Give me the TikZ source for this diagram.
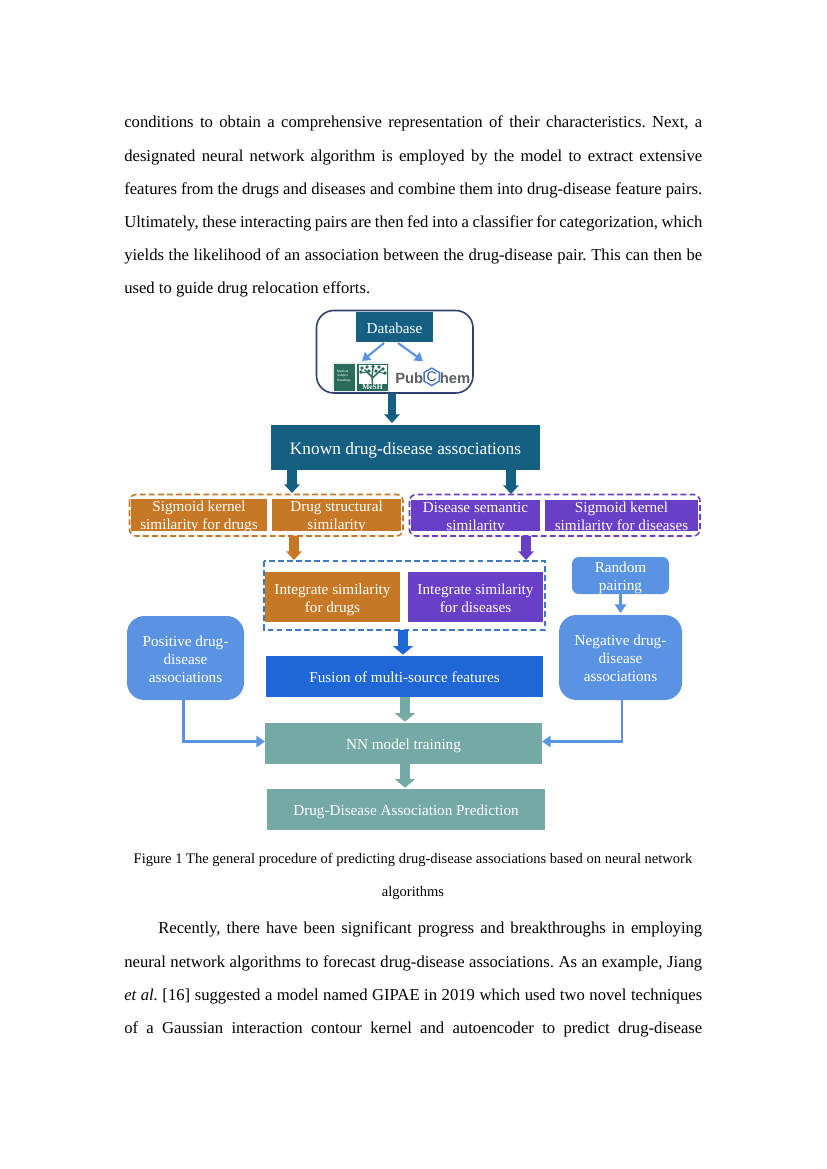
\documentclass[tikz,border=0pt]{standalone}
\usepackage{fontspec}
\setmainfont{Liberation Serif}
\newfontfamily\logofont{Liberation Sans}
\usetikzlibrary{arrows.meta,calc,shapes.geometric}
\frenchspacing
\definecolor{cTeal}{HTML}{156082}
\definecolor{cOrange}{HTML}{C77826}
\definecolor{cPurple}{HTML}{6A3FC8}
\definecolor{cSky}{HTML}{5B93E3}
\definecolor{cFusion}{HTML}{1F66D6}
\definecolor{cSage}{HTML}{74A9A6}
\definecolor{cNavy}{HTML}{2F3F70}
\definecolor{cDash}{HTML}{3F78C4}
\definecolor{cMesh}{HTML}{2A6B5A}
\definecolor{cGrey}{HTML}{5A5F66}
\tikzset{
  x=0.75pt,y=-0.75pt,
  bodyline/.style={anchor=west,inner sep=0pt,yshift=-1.3pt,font=\fontsize{12.5}{14}\selectfont},
  caption/.style={inner sep=0pt,yshift=-1.2pt,font=\fontsize{10.9}{13}\selectfont},
  boxlab/.style={text=white,align=center,inner sep=0pt,font=\fontsize{11.4}{13.5}\selectfont},
  group/.style={draw=#1,line width=1.2pt,dash pattern=on 4.4pt off 2.4pt,rounded corners=5pt},
  block/.style={draw=#1,line width=5.5pt,-{Triangle[width=11.5pt,length=6.5pt,fill=#1]}},
  fatblock/.style={draw=#1,line width=7.5pt,-{Triangle[width=11.5pt,length=6.5pt,fill=#1]}},
  wideblock/.style={draw=#1,line width=7.5pt,-{Triangle[width=15pt,length=6.5pt,fill=#1]}},
  thin arrow/.style={draw=cSky,line width=2.2pt,-{Triangle[width=8.5pt,length=6.5pt,fill=cSky]}},
  diag arrow/.style={draw=cSky,line width=1.6pt,-{Triangle[width=7.5pt,length=6pt,fill=cSky]}},
}
% \cbox{name}{x0}{y0}{x1}{y1}{colour}{corner}{text}
\newcommand{\cbox}[8]{%
  \path[fill=#6,rounded corners=#7pt] (#2,#3) rectangle (#4,#5);
  \coordinate (#1) at ($(#2,#3)!0.5!(#4,#5)$);
  \coordinate (#1n) at ($(#2,#3)!0.5!(#4,#3)$);
  \coordinate (#1s) at ($(#2,#5)!0.5!(#4,#5)$);
  \coordinate (#1w) at ($(#2,#3)!0.5!(#2,#5)$);
  \coordinate (#1e) at ($(#4,#3)!0.5!(#4,#5)$);
  \node[boxlab] (#1t) at ($(#1)+(0,2.5)$) {\strut #8\strut};
}
% clipped version: text cut off by the lower edge
\newcommand{\clipbox}[7]{%
  \path[fill=#6] (#2,#3) rectangle (#4,#5);
  \begin{scope}
    \clip (#2,#3) rectangle (#4,#5);
    \node[boxlab] (#1) at ($(#2,#3)!0.5!(#4,#5)+(0,2)$) {\strut #7\strut};
  \end{scope}
}
\begin{document}
\begin{tikzpicture}
\useasboundingbox[fill=white] (0,0) rectangle (826,1169);
% body text top
\node[bodyline] (l1) at (124,122) {\makebox[578\dimexpr0.75pt\relax][s]{conditions to obtain a comprehensive representation of their characteristics. Next, a}};
\node[bodyline] (l2) at (124,155.5) {\makebox[578\dimexpr0.75pt\relax][s]{designated neural network algorithm is employed by the model to extract extensive}};
\node[bodyline] (l3) at (124,188.5) {\makebox[578\dimexpr0.75pt\relax][s]{features from the drugs and diseases and combine them into drug-disease feature pairs.}};
\node[bodyline] (l4) at (124,221.5) {\makebox[578\dimexpr0.75pt\relax][s]{Ultimately, these interacting pairs are then fed into a classifier for categorization, which}};
\node[bodyline] (l5) at (124,255) {\makebox[578\dimexpr0.75pt\relax][s]{yields the likelihood of an association between the drug-disease pair. This can then be}};
\node[bodyline] (l6) at (124,288) {used to guide drug relocation efforts.};
% database group
\draw[cNavy,line width=1.2pt,rounded corners=13pt] (316.5,310.5) rectangle (473,393);
\cbox{db}{356}{312}{433}{342}{cTeal}{0}{Database}
\coordinate (dbL) at (384,343); \coordinate (dbR) at (398,343);
\coordinate (meshT) at (362,361); \coordinate (pubT) at (423,361);
\draw[diag arrow] (dbL) -- (meshT);
\draw[diag arrow] (dbR) -- (pubT);
% MeSH logo
\fill[cMesh!10] (332,362) rectangle (390,392);
\fill[cMesh] (333.5,363.5) rectangle (355,390.5);
\fill[cMesh] (357,363.5) rectangle (388,390.5);
\fill[white] (358.5,365) rectangle (386.5,384);
\draw[cMesh,line width=1.1pt,line cap=round] (372.5,384) -- (372,377) -- (365,370);
\draw[cMesh,line width=1.1pt,line cap=round] (372,377) -- (373,367);
\draw[cMesh,line width=1.1pt,line cap=round] (372.5,378) -- (381,370);
\draw[cMesh,line width=0.7pt,line cap=round] (367,372) -- (361,373);
\draw[cMesh,line width=0.7pt,line cap=round] (379,372) -- (385,374);
\foreach \a/\b in {362/368,367/367,373/366.5,379/367,383/369,361/372,385/373,369/371,376/371}{\fill[cMesh] (\a,\b) circle (1.9);}
\node[inner sep=0pt,text=white,font=\fontsize{5.6}{6}\selectfont\bfseries] (meshlab) at (372.5,387.3) {MeSH};
\node[inner sep=0pt,text=white,align=left,font=\fontsize{2.4}{3.2}\selectfont\logofont] (meshside) at (344,376) {Medical\\Subject\\Headings};
% PubChem logo
\node[inner sep=0pt,anchor=east,text=cGrey,font=\fontsize{11.1}{13}\selectfont\logofont\bfseries] (pub) at (423.5,378) {Pub};
\node[inner sep=0pt,anchor=west,text=cGrey,font=\fontsize{11.1}{13}\selectfont\logofont\bfseries] (hem) at (439.5,378) {hem};
\node[draw=cDash,line width=1pt,regular polygon,regular polygon sides=6,shape border rotate=30,minimum size=17.5*0.75pt,inner sep=0pt] (hex) at (431.7,376.8) {};
\node[inner sep=0pt,text=cDash!70!black,font=\fontsize{10.5}{12}\selectfont\logofont] (hexc) at (431.7,377) {C};
% known
\coordinate (grpT) at (392,393);
\cbox{known}{271}{425}{540}{470}{cTeal}{0}{\fontsize{13}{15}\selectfont Known drug-disease associations}
\draw[block=cTeal,shorten >=1.5pt] (grpT) -- (knownn -| grpT);
\coordinate (aOr) at (292,493); \coordinate (aPu) at (511,494);
\draw[fatblock=cTeal] (knowns -| aOr) -- (aOr);
\draw[fatblock=cTeal] (knowns -| aPu) -- (aPu);
% groups
\draw[group=cOrange] (129.5,494.5) rectangle (403,536);
\draw[group=cPurple] (409.5,494.5) rectangle (700,536);
\clipbox{s1}{131}{499}{267}{531}{cOrange}{Sigmoid kernel\\similarity for drugs}
\clipbox{s2}{272}{499}{401}{531}{cOrange}{Drug structural\\similarity}
\clipbox{s3}{411}{500}{540}{531}{cPurple}{Disease semantic\\similarity}
\clipbox{s4}{545}{500}{698}{531}{cPurple}{Sigmoid kernel\\similarity for diseases}
% integrate
\draw[cDash,line width=1.2pt,dash pattern=on 4.4pt off 2.4pt] (264,561) rectangle (545,630);
\coordinate (gOr) at (294,536); \coordinate (gPu) at (526,536);
\coordinate (iOr) at (294,560); \coordinate (iPu) at (526,560);
\draw[fatblock=cOrange] (gOr) -- (iOr);
\draw[fatblock=cPurple] (gPu) -- (iPu);
\cbox{i1}{265}{572}{400}{622}{cOrange}{0}{Integrate similarity\\for drugs}
\cbox{i2}{408}{572}{543}{622}{cPurple}{0}{Integrate similarity\\for diseases}
% side boxes
\cbox{rnd}{572}{557}{669}{594}{cSky}{5}{Random\\pairing}
\cbox{neg}{559}{615}{682}{700}{cSky}{13}{Negative drug-\\disease\\associations}
\cbox{pos}{127}{616}{244}{700}{cSky}{13}{Positive drug-\\disease\\associations}
\coordinate (rndA) at (620.5,594);
\draw[thin arrow,shorten >=1.5pt] (rndA) -- (negn -| rndA);
% main stack
\cbox{fus}{266}{656}{543}{697}{cFusion}{0}{Fusion of multi-source features}
\cbox{nn}{265}{723}{542}{764}{cSage}{0}{NN model training}
\cbox{pred}{267}{789}{545}{830}{cSage}{0}{Drug-Disease Association Prediction}
\coordinate (iB) at (403,630);
\draw[wideblock=cFusion,shorten >=1pt] (iB) -- (fusn -| iB);
\coordinate (fB) at (405,697);
\draw[wideblock=cSage,shorten >=1pt] (fB) -- (nnn -| fB);
\coordinate (nB) at (405,764);
\draw[wideblock=cSage,shorten >=1pt] (nB) -- (predn -| nB);
% connectors to NN
\coordinate (pD) at (183.5,700); \coordinate (nD) at (622,700);
\draw[thin arrow] (pD) |- ($(nnw)+(0,-2)$);
\draw[thin arrow] (nD) |- ($(nne)+(0,-2)$);
% caption
\node[caption] (cap1) at (413,858.5) {Figure 1 The general procedure of predicting drug-disease associations based on neural network};
\node[caption] (cap2) at (413,891) {algorithms};
% body text bottom
\node[bodyline] (b1) at (158,928) {\makebox[544\dimexpr0.75pt\relax][s]{Recently, there have been significant progress and breakthroughs in employing}};
\node[bodyline] (b2) at (124,961.5) {\makebox[578\dimexpr0.75pt\relax][s]{neural network algorithms to forecast drug-disease associations. As an example, Jiang}};
\node[bodyline] (b3) at (124,994.5) {\makebox[578\dimexpr0.75pt\relax][s]{\textit{et al.} [16] suggested a model named GIPAE in 2019 which used two novel techniques}};
\node[bodyline] (b4) at (124,1028) {\makebox[578\dimexpr0.75pt\relax][s]{of a Gaussian interaction contour kernel and autoencoder to predict drug-disease}};
\end{tikzpicture}
\end{document}
